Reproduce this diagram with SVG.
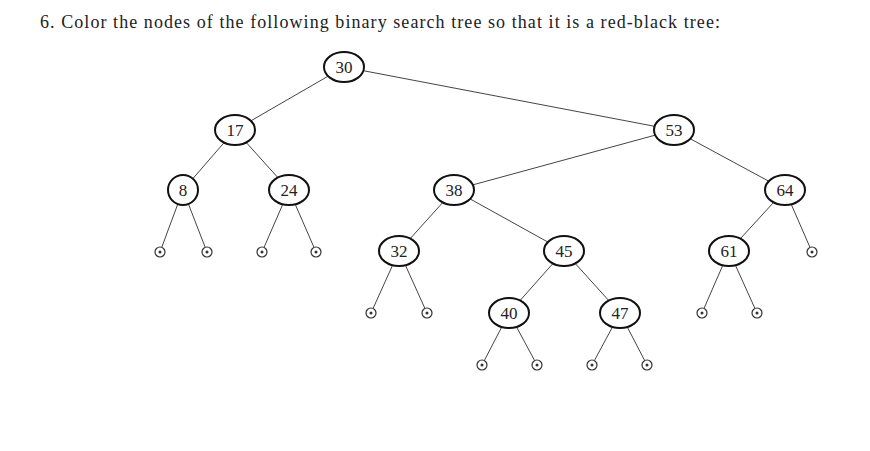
<svg xmlns="http://www.w3.org/2000/svg" width="870" height="451" viewBox="0 0 870 451">
<style>
text{font-family:"Liberation Serif",serif;fill:#222}
.n text{font-size:17px;text-anchor:middle}
.n ellipse{fill:#fff;stroke:#111;stroke-width:2}
#edges line{stroke:#444;stroke-width:1}
</style>
<defs>
<g id="leaf"><circle r="5" fill="#fff" stroke="#333" stroke-width="1.2"/><circle r="1.5" fill="#333"/></g>
</defs>
<rect width="870" height="451" fill="#fff"/>
<text x="40" y="28" font-size="18" textLength="680" lengthAdjust="spacing">6. Color the nodes of the following binary search tree so that it is a red-black tree:</text>
<g id="edges">
<line x1="344" y1="67" x2="235" y2="130"/><line x1="344" y1="67" x2="674" y2="130"/>
<line x1="235" y1="130" x2="183" y2="190"/><line x1="235" y1="130" x2="289" y2="190"/>
<line x1="674" y1="130" x2="454" y2="190"/><line x1="674" y1="130" x2="785" y2="190"/>
<line x1="183" y1="190" x2="160" y2="252"/><line x1="183" y1="190" x2="207" y2="252"/>
<line x1="289" y1="190" x2="262" y2="252"/><line x1="289" y1="190" x2="316" y2="252"/>
<line x1="454" y1="190" x2="399" y2="251"/><line x1="454" y1="190" x2="564" y2="251"/>
<line x1="785" y1="190" x2="729" y2="251"/><line x1="785" y1="190" x2="812" y2="252"/>
<line x1="399" y1="251" x2="371" y2="313"/><line x1="399" y1="251" x2="427" y2="313"/>
<line x1="564" y1="251" x2="509" y2="313"/><line x1="564" y1="251" x2="620" y2="313"/>
<line x1="729" y1="251" x2="702" y2="313"/><line x1="729" y1="251" x2="757" y2="313"/>
<line x1="509" y1="313" x2="482" y2="365"/><line x1="509" y1="313" x2="537" y2="365"/>
<line x1="620" y1="313" x2="592" y2="365"/><line x1="620" y1="313" x2="647" y2="365"/>
</g>
<g class="l">
<use href="#leaf" x="160" y="252"/><use href="#leaf" x="207" y="252"/><use href="#leaf" x="262" y="252"/><use href="#leaf" x="316" y="252"/>
<use href="#leaf" x="812" y="252"/><use href="#leaf" x="371" y="313"/><use href="#leaf" x="427" y="313"/>
<use href="#leaf" x="702" y="313"/><use href="#leaf" x="757" y="313"/>
<use href="#leaf" x="482" y="365"/><use href="#leaf" x="537" y="365"/><use href="#leaf" x="592" y="365"/><use href="#leaf" x="647" y="365"/>
</g>
<g class="n">
<g id="n30"><ellipse cx="344" cy="67" rx="20" ry="15"/><text x="344" y="73">30</text></g>
<g id="n17"><ellipse cx="235" cy="130" rx="20" ry="15"/><text x="235" y="136">17</text></g>
<g id="n53"><ellipse cx="674" cy="130" rx="20" ry="15"/><text x="674" y="136">53</text></g>
<g id="n8"><ellipse cx="183" cy="190" rx="15" ry="15"/><text x="183" y="196">8</text></g>
<g id="n24"><ellipse cx="289" cy="190" rx="20" ry="15"/><text x="289" y="196">24</text></g>
<g id="n38"><ellipse cx="454" cy="190" rx="20" ry="15"/><text x="454" y="196">38</text></g>
<g id="n64"><ellipse cx="785" cy="190" rx="20" ry="15"/><text x="785" y="196">64</text></g>
<g id="n32"><ellipse cx="399" cy="251" rx="20" ry="15"/><text x="399" y="257">32</text></g>
<g id="n45"><ellipse cx="564" cy="251" rx="20" ry="15"/><text x="564" y="257">45</text></g>
<g id="n61"><ellipse cx="729" cy="251" rx="20" ry="15"/><text x="729" y="257">61</text></g>
<g id="n40"><ellipse cx="509" cy="313" rx="20" ry="15"/><text x="509" y="319">40</text></g>
<g id="n47"><ellipse cx="620" cy="313" rx="20" ry="15"/><text x="620" y="319">47</text></g>
</g>
</svg>
